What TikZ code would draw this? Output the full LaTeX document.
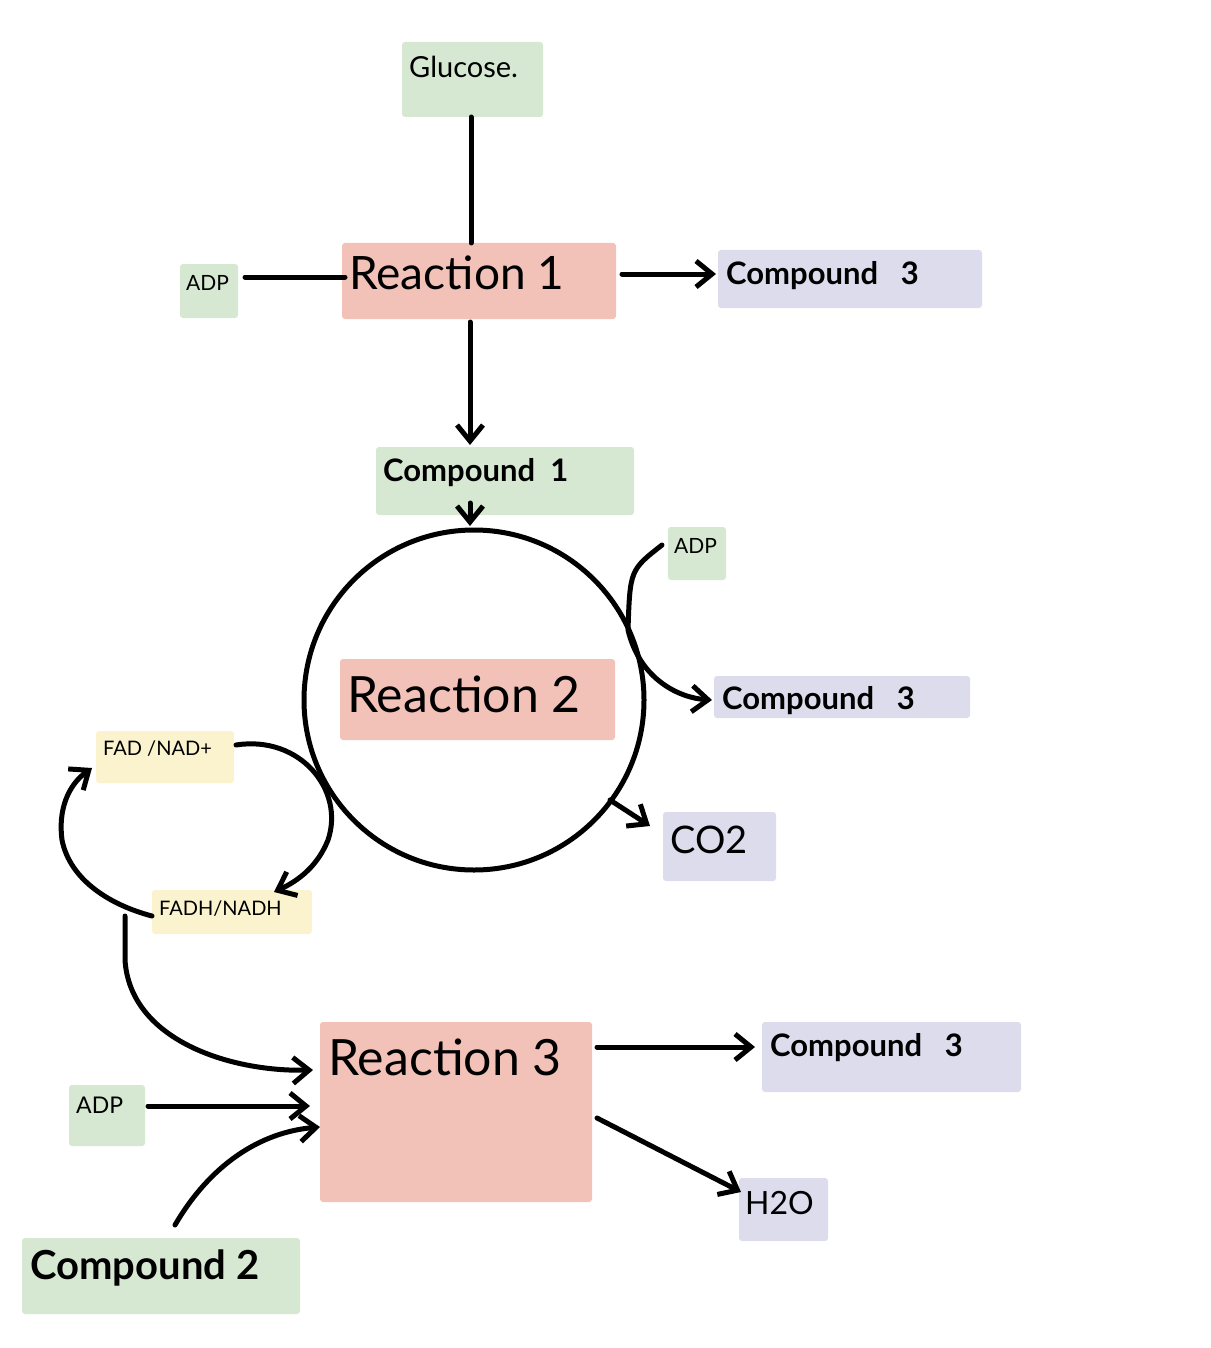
\documentclass[tikz,border=0pt]{standalone}
\usepackage{fontspec}
\setmainfont{Lato}
\usetikzlibrary{arrows.meta}
\definecolor{gbox}{RGB}{214,232,209}
\definecolor{rbox}{RGB}{242,193,183}
\definecolor{lbox}{RGB}{220,220,236}
\definecolor{ybox}{RGB}{250,243,206}
\begin{document}
\begin{tikzpicture}[x=1pt,y=-1pt,
  ln/.style={line width=5pt,line cap=round,black},
  ar/.style={ln,-{Straight Barb[length=16pt,width=26pt,line width=5pt]}},
  t/.style={anchor=north west,inner sep=0pt},
  cb/.style={t,font=\fontsize{31}{32}\selectfont\bfseries}]
\useasboundingbox (0,0) rectangle (1210,1348);
% boxes
\fill[gbox,rounded corners=3pt] (402,42) rectangle (543,117);
\fill[rbox,rounded corners=3pt] (342,243) rectangle (616,319);
\fill[gbox,rounded corners=3pt] (180,264) rectangle (238,318);
\fill[lbox,rounded corners=3pt] (718,250) rectangle (982,308);
\fill[gbox,rounded corners=3pt] (376,447) rectangle (634,515);
\fill[rbox,rounded corners=3pt] (340,659) rectangle (615,740);
\fill[gbox,rounded corners=3pt] (668,527) rectangle (726,580);
\fill[lbox,rounded corners=3pt] (714,676) rectangle (970,718);
\fill[lbox,rounded corners=3pt] (663,812) rectangle (776,881);
\fill[ybox,rounded corners=3pt] (96,731) rectangle (234,783);
\fill[ybox,rounded corners=3pt] (152,890) rectangle (312,934);
\fill[rbox,rounded corners=3pt] (320,1022) rectangle (592,1202);
\fill[lbox,rounded corners=3pt] (762,1022) rectangle (1021,1092);
\fill[gbox,rounded corners=3pt] (69,1085) rectangle (145,1146);
\fill[lbox,rounded corners=3pt] (739,1178) rectangle (828,1241);
\fill[gbox,rounded corners=3pt] (22,1238) rectangle (300,1314);
% texts
\node[t,font=\fontsize{29}{30}\selectfont] (glucose) at (409,56) {Glucose.};
\node[t,font=\fontsize{46}{48}\selectfont] (r1) at (349,256) {Reaction 1};
\node[t,font=\fontsize{21}{22}\selectfont] (adp1) at (186,275) {ADP};
\node[cb] (c3a) at (726,261) {Compound\ \ \ 3};
\node[cb] (c1) at (383,458) {Compound\ \ 1};
\node[t,font=\fontsize{50}{52}\selectfont] (r2) at (347,676) {Reaction 2};
\node[t,font=\fontsize{21}{22}\selectfont] (adp2) at (674,538) {ADP};
\node[cb] (c3b) at (722,686) {Compound\ \ \ 3};
\node[t,font=\fontsize{38}{40}\selectfont] (co2) at (670,826) {CO2};
\node[t,font=\fontsize{20}{22}\selectfont] (fad) at (103,741) {FAD /NAD+};
\node[t,font=\fontsize{20}{22}\selectfont] (fadh) at (159,901) {FADH/NADH};
\node[t,font=\fontsize{50}{52}\selectfont] (r3) at (328,1039) {Reaction 3};
\node[cb] (c3c) at (770,1033) {Compound\ \ \ 3};
\node[t,font=\fontsize{23}{24}\selectfont] (adp3) at (76,1097) {ADP};
\node[t,font=\fontsize{32}{34}\selectfont] (h2o) at (745,1191) {H2O};
\node[t,font=\fontsize{40}{42}\selectfont\bfseries] (c2) at (30,1250) {Compound 2};
% circle
\node[circle,draw,line width=5pt,minimum size=340pt,inner sep=0pt] (cyc) at (474,700) {};
% coordinates
\coordinate (a1) at (471,117); \coordinate (a2) at (471,243);
\coordinate (b1) at (245,277); \coordinate (b2) at (345,277);
\coordinate (c1s) at (622,274); \coordinate (c1e) at (716,274);
\coordinate (d1) at (470,322); \coordinate (d2) at (470,445);
\coordinate (e1) at (470,503); \coordinate (e2) at (470,526);
\coordinate (f1) at (662,545); \coordinate (f2) at (628,630); \coordinate (f3) at (712,700);
\coordinate (g1) at (610,800); \coordinate (g2) at (650,826);
\coordinate (h1) at (236,745); \coordinate (h2) at (274,892);
\coordinate (i1) at (152,916); \coordinate (i2) at (92,768);
\coordinate (j1) at (125,916); \coordinate (j2) at (313,1070);
\coordinate (k1) at (148,1106); \coordinate (k2) at (310,1106);
\coordinate (l1) at (175,1225); \coordinate (l2) at (320,1127);
\coordinate (m1) at (597,1047); \coordinate (m2) at (755,1047);
\coordinate (n1) at (597,1118); \coordinate (n2) at (741,1192);
% connectors
\draw[ln] (a1) -- (a2);
\draw[ln] (b1) -- (b2);
\draw[ar] (c1s) -- (c1e);
\draw[ar] (d1) -- (d2);
\draw[ar] (e1) -- (e2);
\draw[ar] (f1) .. controls (630,570) .. (f2) .. controls (640,680) and (680,698) .. (f3);
\draw[ar] (g1) -- (g2);
\draw[ar] (h1) .. controls (300,735) and (345,790) .. (328,840) .. controls (318,865) and (300,880) .. (h2);
\draw[ar] (i1) .. controls (110,905) and (70,880) .. (62,840) .. controls (58,810) and (68,785) .. (i2);
\draw[ar] (j1) -- (125,960) .. controls (130,1040) and (230,1072) .. (j2);
\draw[ar] (k1) -- (k2);
\draw[ar] (l1) .. controls (210,1165) and (260,1132) .. (l2);
\draw[ar] (m1) -- (m2);
\draw[ar] (n1) -- (n2);
\end{tikzpicture}
\end{document}
